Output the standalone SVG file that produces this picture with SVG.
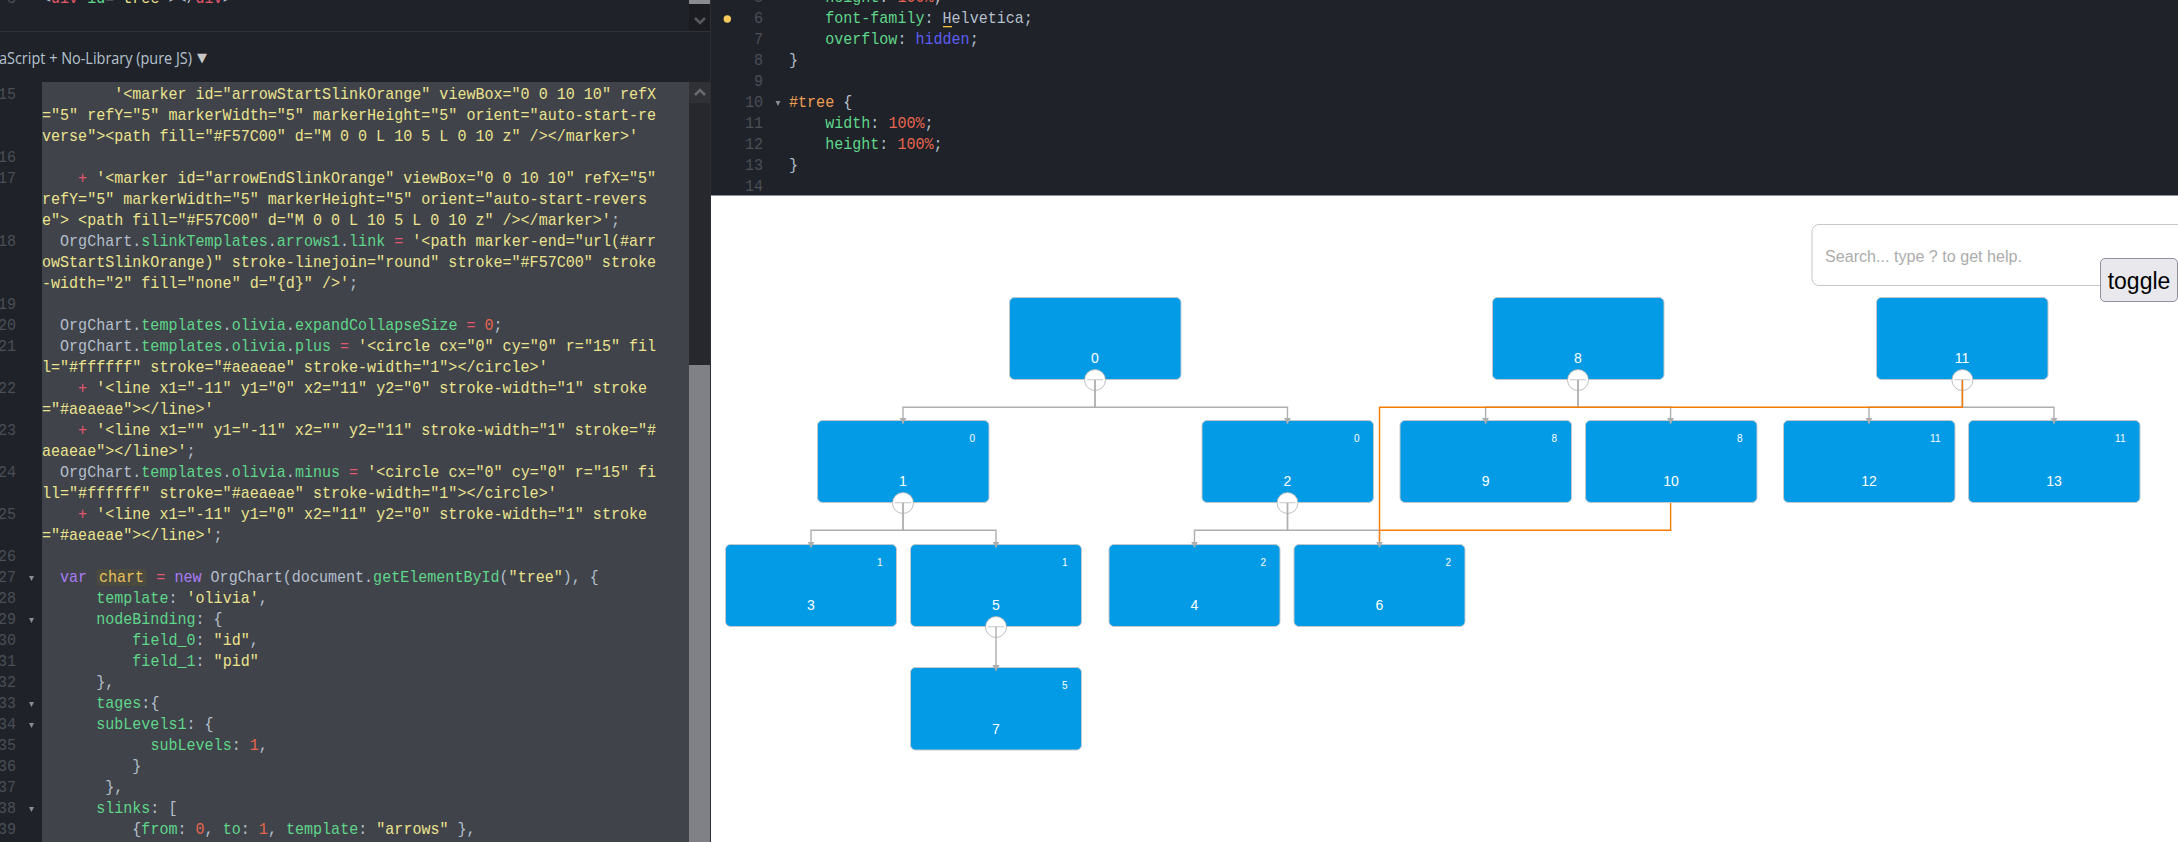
<svg xmlns="http://www.w3.org/2000/svg" width="2178" height="842" viewBox="0 0 2178 842">
<style>
.code{font-family:"Liberation Mono","DejaVu Sans Mono",monospace;font-size:16.4px;fill:#ece38f}
.num{fill:#4b4e56;text-anchor:end}
.g{fill:#5fd68a}.w{fill:#b4bfcc}.r{fill:#e2566e}.n{fill:#e8654f}.k{fill:#a97cf5}.o{fill:#ef9f52}.b{fill:#5d5df0}.t{fill:#e0566b}.y{fill:#e8c15a}
.node rect{fill:#039be5;stroke:#c4c8cc;stroke-width:1}
.node text{font-family:"Liberation Sans",Arial,sans-serif;fill:#fff}
.id{font-size:14px;text-anchor:middle}
.pid{font-size:10px;text-anchor:end}
.tog circle{fill:#fff;stroke:#aeaeae;stroke-width:.8}
.tog line{stroke:#cfcfcf;stroke-width:1.2}
.lnk{fill:none;stroke:#aeaeae;stroke-width:1.4}
.slk{fill:none;stroke:#f57c00;stroke-width:1.4}
.fold{fill:#8b8d92}
</style>
<defs>
<marker id="arrow" viewBox="0 0 10 10" refX="10" refY="5" markerWidth="6" markerHeight="7.3" markerUnits="userSpaceOnUse" orient="auto" preserveAspectRatio="none"><path d="M0 0L10 5L0 10z" fill="#aeaeae"/></marker>
</defs>

<rect width="2178" height="842" fill="#fff"/>
<rect width="711" height="842" fill="#1f2229"/>
<rect x="711" width="1467" height="195.500" fill="#1f2229"/>
<rect x="0" y="31" width="710" height="1" fill="#2e3137"/>
<rect x="710" y="0" width="1" height="842" fill="#2b2e34"/>

<rect x="42" y="82" width="647" height="760" fill="#40434a"/>
<rect x="96.500" y="569" width="50" height="17" rx="2" fill="#4b4a41"/>
<rect x="689" y="0" width="21" height="31" fill="#1a1c21"/>
<rect x="689" y="0" width="21" height="4" fill="#8a8a8f"/>
<path d="M695 18L700 23L705 18" fill="none" stroke="#55585d" stroke-width="2.500"/>
<rect x="689" y="82" width="21" height="760" fill="#26282e"/>
<rect x="689" y="82" width="21" height="21" fill="#2f3137"/>
<path d="M695 95L700 90L705 95" fill="none" stroke="#686a70" stroke-width="2.500"/>
<rect x="689" y="365" width="21" height="477" fill="#808186"/>

<text x="-1" y="64" font-family="Open Sans, sans-serif" font-size="16" fill="#b6c2cf" textLength="193" lengthAdjust="spacingAndGlyphs">aScript + No-Library (pure JS)</text>
<text x="197" y="62" font-family="DejaVu Sans, sans-serif" font-size="13" fill="#c8c8c8">▼</text>

<g transform="scale(.918 1)">
<g class="code">
<text class="num" x="17.400" y="3">3</text>
<text class="num" x="17.400" y="99">15</text>
<text class="num" x="17.400" y="162">16</text>
<text class="num" x="17.400" y="183">17</text>
<text class="num" x="17.400" y="246">18</text>
<text class="num" x="17.400" y="309">19</text>
<text class="num" x="17.400" y="330">20</text>
<text class="num" x="17.400" y="351">21</text>
<text class="num" x="17.400" y="393">22</text>
<text class="num" x="17.400" y="435">23</text>
<text class="num" x="17.400" y="477">24</text>
<text class="num" x="17.400" y="519">25</text>
<text class="num" x="17.400" y="561">26</text>
<text class="num" x="17.400" y="582">27</text>
<text class="num" x="17.400" y="603">28</text>
<text class="num" x="17.400" y="624">29</text>
<text class="num" x="17.400" y="645">30</text>
<text class="num" x="17.400" y="666">31</text>
<text class="num" x="17.400" y="687">32</text>
<text class="num" x="17.400" y="708">33</text>
<text class="num" x="17.400" y="729">34</text>
<text class="num" x="17.400" y="750">35</text>
<text class="num" x="17.400" y="771">36</text>
<text class="num" x="17.400" y="792">37</text>
<text class="num" x="17.400" y="813">38</text>
<text class="num" x="17.400" y="834">39</text>

<text x="45.750" y="3"><tspan class="w">&lt;</tspan><tspan class="t">div</tspan> <tspan class="g">id</tspan><tspan class="w">=</tspan>"tree"<tspan class="w">&gt;&lt;/</tspan><tspan class="t">div</tspan><tspan class="w">&gt;</tspan></text>
<text x="124.470" y="99">'&lt;marker id="arrowStartSlinkOrange" viewBox="0 0 10 10" refX</text>
<text x="45.750" y="120">="5" refY="5" markerWidth="5" markerHeight="5" orient="auto-start-re</text>
<text x="45.750" y="141">verse"&gt;&lt;path fill="#F57C00" d="M 0 0 L 10 5 L 0 10 z" /&gt;&lt;/marker&gt;'</text>
<text x="85.110" y="183"><tspan class="r">+</tspan> '&lt;marker id="arrowEndSlinkOrange" viewBox="0 0 10 10" refX="5"</text>
<text x="45.750" y="204">refY="5" markerWidth="5" markerHeight="5" orient="auto-start-revers</text>
<text x="45.750" y="225">e"&gt; &lt;path fill="#F57C00" d="M 0 0 L 10 5 L 0 10 z" /&gt;&lt;/marker&gt;'<tspan class="w">;</tspan></text>
<text x="65.430" y="246"><tspan class="w">OrgChart.</tspan><tspan class="g">slinkTemplates</tspan><tspan class="w">.</tspan><tspan class="g">arrows1</tspan><tspan class="w">.</tspan><tspan class="g">link</tspan> <tspan class="r">=</tspan> '&lt;path marker-end="url(#arr</text>
<text x="45.750" y="267">owStartSlinkOrange)" stroke-linejoin="round" stroke="#F57C00" stroke</text>
<text x="45.750" y="288">-width="2" fill="none" d="{d}" /&gt;'<tspan class="w">;</tspan></text>
<text x="65.430" y="330"><tspan class="w">OrgChart.</tspan><tspan class="g">templates</tspan><tspan class="w">.</tspan><tspan class="g">olivia</tspan><tspan class="w">.</tspan><tspan class="g">expandCollapseSize</tspan> <tspan class="r">=</tspan> <tspan class="n">0</tspan><tspan class="w">;</tspan></text>
<text x="65.430" y="351"><tspan class="w">OrgChart.</tspan><tspan class="g">templates</tspan><tspan class="w">.</tspan><tspan class="g">olivia</tspan><tspan class="w">.</tspan><tspan class="g">plus</tspan> <tspan class="r">=</tspan> '&lt;circle cx="0" cy="0" r="15" fil</text>
<text x="45.750" y="372">l="#ffffff" stroke="#aeaeae" stroke-width="1"&gt;&lt;/circle&gt;'</text>
<text x="85.110" y="393"><tspan class="r">+</tspan> '&lt;line x1="-11" y1="0" x2="11" y2="0" stroke-width="1" stroke</text>
<text x="45.750" y="414">="#aeaeae"&gt;&lt;/line&gt;'</text>
<text x="85.110" y="435"><tspan class="r">+</tspan> '&lt;line x1="" y1="-11" x2="" y2="11" stroke-width="1" stroke="#</text>
<text x="45.750" y="456">aeaeae"&gt;&lt;/line&gt;'<tspan class="w">;</tspan></text>
<text x="65.430" y="477"><tspan class="w">OrgChart.</tspan><tspan class="g">templates</tspan><tspan class="w">.</tspan><tspan class="g">olivia</tspan><tspan class="w">.</tspan><tspan class="g">minus</tspan> <tspan class="r">=</tspan> '&lt;circle cx="0" cy="0" r="15" fi</text>
<text x="45.750" y="498">ll="#ffffff" stroke="#aeaeae" stroke-width="1"&gt;&lt;/circle&gt;'</text>
<text x="85.110" y="519"><tspan class="r">+</tspan> '&lt;line x1="-11" y1="0" x2="11" y2="0" stroke-width="1" stroke</text>
<text x="45.750" y="540">="#aeaeae"&gt;&lt;/line&gt;'<tspan class="w">;</tspan></text>
<text x="65.430" y="582"><tspan class="k">var</tspan> <tspan class="y" dx="3">chart</tspan> <tspan class="r" dx="3.500">=</tspan> <tspan class="k">new</tspan> <tspan class="w">OrgChart(document.</tspan><tspan class="g">getElementById</tspan><tspan class="w">(</tspan>"tree"<tspan class="w">), {</tspan></text>
<text x="104.790" y="603"><tspan class="g">template</tspan><tspan class="w">:</tspan> 'olivia'<tspan class="w">,</tspan></text>
<text x="104.790" y="624"><tspan class="g">nodeBinding</tspan><tspan class="w">: {</tspan></text>
<text x="144.150" y="645"><tspan class="g">field_0</tspan><tspan class="w">:</tspan> "id"<tspan class="w">,</tspan></text>
<text x="144.150" y="666"><tspan class="g">field_1</tspan><tspan class="w">:</tspan> "pid"</text>
<text x="104.790" y="687"><tspan class="w">},</tspan></text>
<text x="104.790" y="708"><tspan class="g">tages</tspan><tspan class="w">:{</tspan></text>
<text x="104.790" y="729"><tspan class="g">subLevels1</tspan><tspan class="w">: {</tspan></text>
<text x="163.830" y="750"><tspan class="g">subLevels</tspan><tspan class="w">:</tspan> <tspan class="n">1</tspan><tspan class="w">,</tspan></text>
<text x="144.150" y="771"><tspan class="w">}</tspan></text>
<text x="114.630" y="792"><tspan class="w">},</tspan></text>
<text x="104.790" y="813"><tspan class="g">slinks</tspan><tspan class="w">: [</tspan></text>
<text x="144.150" y="834"><tspan class="w">{</tspan><tspan class="g">from</tspan><tspan class="w">:</tspan> <tspan class="n">0</tspan><tspan class="w">,</tspan> <tspan class="g">to</tspan><tspan class="w">:</tspan> <tspan class="n">1</tspan><tspan class="w">,</tspan> <tspan class="g">template</tspan><tspan class="w">:</tspan> "arrows" <tspan class="w">},</tspan></text>

<text class="num" x="831.200" y="1.700">5</text>
<text class="num" x="831.200" y="22.700">6</text>
<text class="num" x="831.200" y="43.700">7</text>
<text class="num" x="831.200" y="64.700">8</text>
<text class="num" x="831.200" y="85.700">9</text>
<text class="num" x="831.200" y="106.700">10</text>
<text class="num" x="831.200" y="127.700">11</text>
<text class="num" x="831.200" y="148.700">12</text>
<text class="num" x="831.200" y="169.700">13</text>
<text class="num" x="831.200" y="190.700">14</text>
<text x="898.860" y="1.700"><tspan class="g">height</tspan><tspan class="w">:</tspan> <tspan class="n">100%</tspan><tspan class="w">;</tspan></text>
<text x="898.860" y="22.700"><tspan class="g">font-family</tspan><tspan class="w">: Helvetica;</tspan></text>
<text x="898.860" y="43.700"><tspan class="g">overflow</tspan><tspan class="w">:</tspan> <tspan class="b">hidden</tspan><tspan class="w">;</tspan></text>
<text x="859.500" y="64.700"><tspan class="w">}</tspan></text>
<text x="859.500" y="106.700"><tspan class="o">#tree</tspan> <tspan class="w">{</tspan></text>
<text x="898.860" y="127.700"><tspan class="g">width</tspan><tspan class="w">:</tspan> <tspan class="n">100%</tspan><tspan class="w">;</tspan></text>
<text x="898.860" y="148.700"><tspan class="g">height</tspan><tspan class="w">:</tspan> <tspan class="n">100%</tspan><tspan class="w">;</tspan></text>
<text x="859.500" y="169.700"><tspan class="w">}</tspan></text>
</g>
</g>

<path class="fold" d="M29 576h5l-2.500 5zM29 618h5l-2.500 5zM29 702h5l-2.500 5zM29 723h5l-2.500 5zM29 807h5l-2.500 5zM775.500 101h5l-2.500 5z"/>
<circle cx="727.300" cy="19" r="3.700" fill="#f5c95c"/>
<rect x="943" y="26" width="9" height="1.300" fill="#f5c542"/>

<rect x="1812" y="224.500" width="420" height="61" rx="7" fill="#fff" stroke="#c7c7c7" stroke-width="1"/>
<text x="1825" y="262" font-family="Liberation Sans, Arial, sans-serif" font-size="16.700" fill="#acacac" textLength="197" lengthAdjust="spacingAndGlyphs">Search... type ? to get help.</text>

<g id="node-0" class="node"><rect x="1009.500" y="297.500" width="171.500" height="82" rx="5"/><text class="id" x="1095" y="362.700">0</text><g class="tog"><circle cx="1095" cy="380" r="10.500"/><line x1="1087" y1="379.700" x2="1103" y2="379.700"/></g></g>
<g id="node-8" class="node"><rect x="1492.500" y="297.500" width="171.500" height="82" rx="5"/><text class="id" x="1578" y="362.700">8</text><g class="tog"><circle cx="1578" cy="380" r="10.500"/><line x1="1570" y1="379.700" x2="1586" y2="379.700"/></g></g>
<g id="node-11" class="node"><rect x="1876.500" y="297.500" width="171.500" height="82" rx="5"/><text class="id" x="1962" y="362.700">11</text><g class="tog"><circle cx="1962.400" cy="380" r="10.500"/><line x1="1954.400" y1="379.700" x2="1970.400" y2="379.700"/></g></g>
<g id="node-1" class="node"><rect x="817.500" y="420.500" width="171.500" height="82" rx="5"/><text class="id" x="903" y="486">1</text><text class="pid" x="975" y="441.700">0</text><g class="tog"><circle cx="903" cy="503" r="10.500"/><line x1="895" y1="502.700" x2="911" y2="502.700"/></g></g>
<g id="node-2" class="node"><rect x="1202" y="420.500" width="171.500" height="82" rx="5"/><text class="id" x="1287.500" y="486">2</text><text class="pid" x="1359.500" y="441.700">0</text><g class="tog"><circle cx="1287.500" cy="503" r="10.500"/><line x1="1279.500" y1="502.700" x2="1295.500" y2="502.700"/></g></g>
<g id="node-9" class="node"><rect x="1400" y="420.500" width="171.500" height="82" rx="5"/><text class="id" x="1485.600" y="486">9</text><text class="pid" x="1557" y="441.700">8</text></g>
<g id="node-10" class="node"><rect x="1585.500" y="420.500" width="171.500" height="82" rx="5"/><text class="id" x="1671" y="486">10</text><text class="pid" x="1742.500" y="441.700">8</text></g>
<g id="node-12" class="node"><rect x="1783.500" y="420.500" width="171.500" height="82" rx="5"/><text class="id" x="1869" y="486">12</text><text class="pid" x="1940.500" y="441.700">11</text></g>
<g id="node-13" class="node"><rect x="1968.500" y="420.500" width="171.500" height="82" rx="5"/><text class="id" x="2054" y="486">13</text><text class="pid" x="2125.500" y="441.700">11</text></g>
<g id="node-3" class="node"><rect x="725.500" y="544.500" width="171" height="82" rx="5"/><text class="id" x="811" y="610">3</text><text class="pid" x="882.500" y="565.700">1</text></g>
<g id="node-5" class="node"><rect x="910.500" y="544.500" width="171" height="82" rx="5"/><text class="id" x="996" y="610">5</text><text class="pid" x="1067.500" y="565.700">1</text><g class="tog"><circle cx="996" cy="627" r="10.500"/><line x1="988" y1="626.700" x2="1004" y2="626.700"/></g></g>
<g id="node-4" class="node"><rect x="1109" y="544.500" width="171" height="82" rx="5"/><text class="id" x="1194.500" y="610">4</text><text class="pid" x="1266" y="565.700">2</text></g>
<g id="node-6" class="node"><rect x="1294" y="544.500" width="171" height="82" rx="5"/><text class="id" x="1379.500" y="610">6</text><text class="pid" x="1451" y="565.700">2</text></g>
<g id="node-7" class="node"><rect x="910.500" y="667.500" width="171" height="82.500" rx="5"/><text class="id" x="996" y="733.500">7</text><text class="pid" x="1067.500" y="689">5</text></g>

<g id="connectors">
<path class="lnk" marker-end="url(#arrow)" d="M1095 380V407.300H903V423.700"/>
<path class="lnk" marker-end="url(#arrow)" d="M1095 380V407.300H1287.500V423.700"/>
<path class="lnk" marker-end="url(#arrow)" d="M903 503V530.300H811V547.500"/>
<path class="lnk" marker-end="url(#arrow)" d="M903 503V530.300H996V547.500"/>
<path class="lnk" marker-end="url(#arrow)" d="M1287.500 503V530.300H1194.500V547.500"/>
<path class="lnk" marker-end="url(#arrow)" d="M1287.500 503V530.300H1379.500V547.500"/>
<path class="lnk" marker-end="url(#arrow)" d="M996 627V670.800"/>
<path class="lnk" marker-end="url(#arrow)" d="M1578 380V407.300H1485.600V423.700"/>
<path class="lnk" marker-end="url(#arrow)" d="M1578 380V407.300H1670.600V423.700"/>
<path class="lnk" marker-end="url(#arrow)" d="M1962.400 380V407.300H1869V423.700"/>
<path class="lnk" marker-end="url(#arrow)" d="M1962.400 380V407.300H2054V423.700"/>
<path class="slk" d="M1962.400 380V407.300H1379.500V541.500"/>
<path class="slk" d="M1670.600 503V530.300H1379.500"/>
</g>

<rect x="2100.500" y="258.500" width="77" height="43" rx="4.500" fill="#e9e9ed" stroke="#8f8f9d" stroke-width="1"/>
<text x="2139" y="289" font-family="Liberation Sans, Arial, sans-serif" font-size="23" fill="#000" text-anchor="middle">toggle</text>
</svg>
